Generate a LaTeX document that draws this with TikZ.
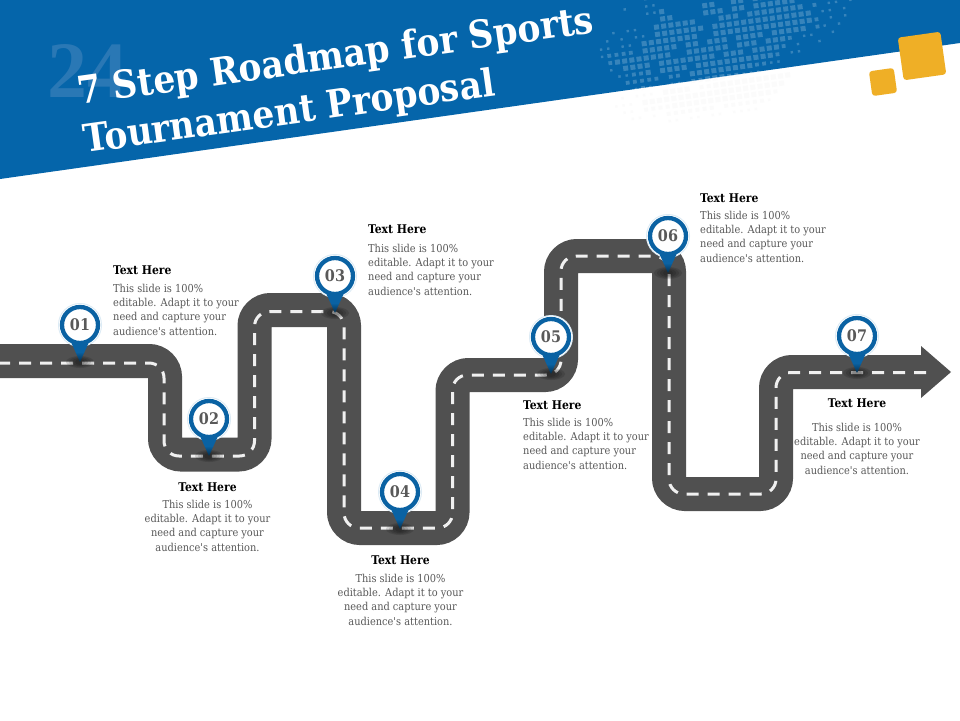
\documentclass[tikz,border=0pt]{standalone}
\usepackage{fontspec}
\setmainfont{Liberation Serif}
\newfontfamily\cambrialike{DejaVu Serif Condensed}
\definecolor{hdblue}{HTML}{0565AA}
\definecolor{ringblue}{HTML}{0A62A3}
\definecolor{roadgrey}{HTML}{505050}
\definecolor{bodygrey}{HTML}{595959}
\definecolor{gold}{HTML}{EFAF26}
\definecolor{ghost}{HTML}{2A78B5}
\definecolor{halo}{HTML}{DCEBF5}
\newcount\dotc
\def\dotcell#1{\if#1.\else
  \if#1X\def\dh{2.5}\else\if#1x\def\dh{1.9}\else\def\dh{1.2}\fi\fi
  \pgfmathsetmacro{\dcx}{\the\dotc*7.25}%
  \pgfmathsetmacro{\dcy}{-\dotr*7.3}%
  \fill[fill=\dotcolor] (\dcx-\dh,\dcy-\dh) rectangle (\dcx+\dh,\dcy+\dh);
\fi}
\def\dotparse#1{\ifx#1\relax\else\dotcell{#1}\global\advance\dotc by 1 \expandafter\dotparse\fi}
\def\dotrow#1#2{\dotc=0 \def\dotr{#1}\dotparse#2\relax}
\def\dotfield{%
\dotrow{12}{........o.....oo..xx.xx...xx.xx......}%
\dotrow{11}{.....o..oo.......xx..xx.xxxxx...oo...}%
\dotrow{10}{........ooX.....XX..XX.XXXXXX...oo.o.}%
\dotrow{9}{..........XX....XXX.XX.XXXXXX..xx..o.}%
\dotrow{8}{...o.oo..XXXXXX...XXX.XXXXXXXX.x.oo.o}%
\dotrow{7}{..o.o.oo.XXXXXXX.XXXXXXXXXXXXXX.oo.o.}%
\dotrow{6}{.oo.oo.XXXXXXXX..XXXXXXXXXXXXXXx.o.o.}%
\dotrow{5}{.oxxxx.XXXXX.XX.XXX.XXXX.XXXXX.xo.o..}%
\dotrow{4}{..xXXXXXXXX..XXXXXX.XXX.XXXx.oo..o...}%
\dotrow{3}{..o.XXXX.XXXXXXXX.XXX.XXXXx.o..o.....}%
\dotrow{2}{...ooxxX.XXXX.XXXXXXXXXXXx.oo........}%
\dotrow{1}{....xxxxx.xx.XXXXXXXXXxxoo...........}%
\dotrow{0}{.....oxo..oo.xxXXXxxooo..............}%
\dotrow{-1}{...o.ooo.XXXX.xxXXXXXXXXXXX..........}%
\dotrow{-2}{..ooo.XXXXXXXXXXXXXXXXXXXX...........}%
\dotrow{-3}{...oo.xxxxXXXXXXXXXXXXXXx............}%
\dotrow{-4}{....oo.o.xxxxxxx.xxxxxxo.............}%
\dotrow{-5}{.........oo.oo.oo.oooo...............}%
}
\tikzset{
  x=1pt,y=-1pt,
  roadline/.style={line width=34pt,draw=roadgrey,rounded corners=16pt},
  laneline/.style={line width=3pt,draw=white!94!black,rounded corners=15pt,dash pattern=on 12pt off 9pt},
  pinnode/.style={circle,draw=ringblue,line width=4.3pt,fill=white,minimum size=36pt,inner sep=0pt,
    font=\cambrialike\fontsize{16}{16}\selectfont\bfseries,text=bodygrey},
  headtxt/.style={inner sep=0pt,font=\cambrialike\fontsize{12}{14}\selectfont\bfseries,text=black},
  bodytxt/.style={inner sep=0pt,font=\cambrialike\fontsize{10.9}{14.3}\selectfont,text=bodygrey},
  titletxt/.style={inner sep=0pt,anchor=base west,rotate=8,text=white,
    font=\cambrialike\fontsize{38.3}{38}\selectfont\bfseries},
  goldsq/.style={fill=gold,rounded corners=3pt,rotate=8}
}
\newcommand{\bodylines}{This slide is 100\%\\editable. Adapt it to your\\need and capture your\\audience's attention.}
\begin{document}
\begin{tikzpicture}
\useasboundingbox (0,0) rectangle (960,720);
\fill[white] (0,0) rectangle (960,720);
% header band
\fill[hdblue] (0,0) -- (960,0) -- (960,43) -- (0,179) -- cycle;
% dotted map
\begin{scope}
  \clip (0,0) -- (960,0) -- (960,43) -- (0,179) -- cycle;
  \def\dotcolor{white!20!hdblue}
  \begin{scope}[shift={(600,94)},rotate=8]\dotfield\end{scope}
\end{scope}
\begin{scope}
  \clip (0,179) -- (960,43) -- (960,200) -- (0,200) -- cycle;
  \def\dotcolor{black!1.5!white}
  \begin{scope}[shift={(600,94)},rotate=8]\dotfield\end{scope}
\end{scope}
% gold squares
\node[goldsq,minimum size=43pt,inner sep=0pt] (sqa) at (922,56) {};
\node[goldsq,minimum size=25pt,inner sep=0pt] (sqb) at (883,82) {};
% ghost number and title
\node[inner sep=0pt,anchor=base west,text=ghost,font=\fontsize{80}{80}\selectfont\bfseries] (ghostnum) at (47,97) {24};
\node[titletxt] (t1) at (79,105) {7 Step Roadmap for Sports};
\node[titletxt] (t2) at (85,153) {Tournament Proposal};
% road
\draw[roadline] (-20,361) -- (165,361) -- (165,454.5) -- (254.5,454.5) -- (254.5,310) -- (344,310)
  -- (344,528) -- (452.5,528) -- (452.5,375) -- (561,375) -- (561,256) -- (669,256)
  -- (669,494) -- (776,494) -- (776,372) -- (925,372);
\fill[roadgrey] (921,346) -- (951,372) -- (921,398) -- cycle;
\draw[laneline] (-2,363) -- (164,363) -- (164,456) -- (254.5,456) -- (254.5,311.5) -- (344,311.5)
  -- (344,528) -- (452.5,528) -- (452.5,375) -- (561,375) -- (561,256) -- (669,256)
  -- (669,494) -- (776,494) -- (776,372.5) -- (932,372.5);
% pins
\foreach \n/\px/\py/\lab in {1/80/325/01,2/209/419/02,3/335/276/03,4/400/492/04,5/551/337/05,6/668/236/06,7/857/336/07}{
  \foreach \sx/\sy in {14/6,11/5,8/4,5/3}{
    \fill[black,opacity=.13] (\px,\py+37) ellipse [x radius=\sx,y radius=\sy];
  }
  \fill[halo] (\px,\py) circle (22);
  \fill[white] (\px,\py) circle (21);
  \shade[top color=ringblue,bottom color=ringblue!45!black,middle color=ringblue]
     (\px-9,\py+17) -- (\px+9,\py+17) -- (\px,\py+37) -- cycle;
  \node[pinnode] (pin\n) at (\px,\py) {\lab};
}
% texts
\node[headtxt,anchor=west] (h1) at (113,270.5) {Text Here};
\node[bodytxt,anchor=west,align=left] (b1) at (113,309.5) {\bodylines};
\node[headtxt] (h2) at (207.5,487) {Text Here};
\node[bodytxt,align=center] (b2) at (207.5,525.5) {\bodylines};
\node[headtxt,anchor=west] (h3) at (368,229.5) {Text Here};
\node[bodytxt,anchor=west,align=left] (b3) at (368,269.5) {\bodylines};
\node[headtxt] (h4) at (400.5,560) {Text Here};
\node[bodytxt,align=center] (b4) at (400.5,599.5) {\bodylines};
\node[headtxt,anchor=west] (h5) at (523,405) {Text Here};
\node[bodytxt,anchor=west,align=left] (b5) at (523,443.5) {\bodylines};
\node[headtxt,anchor=west] (h6) at (700,198.5) {Text Here};
\node[bodytxt,anchor=west,align=left] (b6) at (700,236.5) {\bodylines};
\node[headtxt] (h7) at (857,403) {Text Here};
\node[bodytxt,align=center] (b7) at (857,448.5) {\bodylines};
\end{tikzpicture}
\end{document}
